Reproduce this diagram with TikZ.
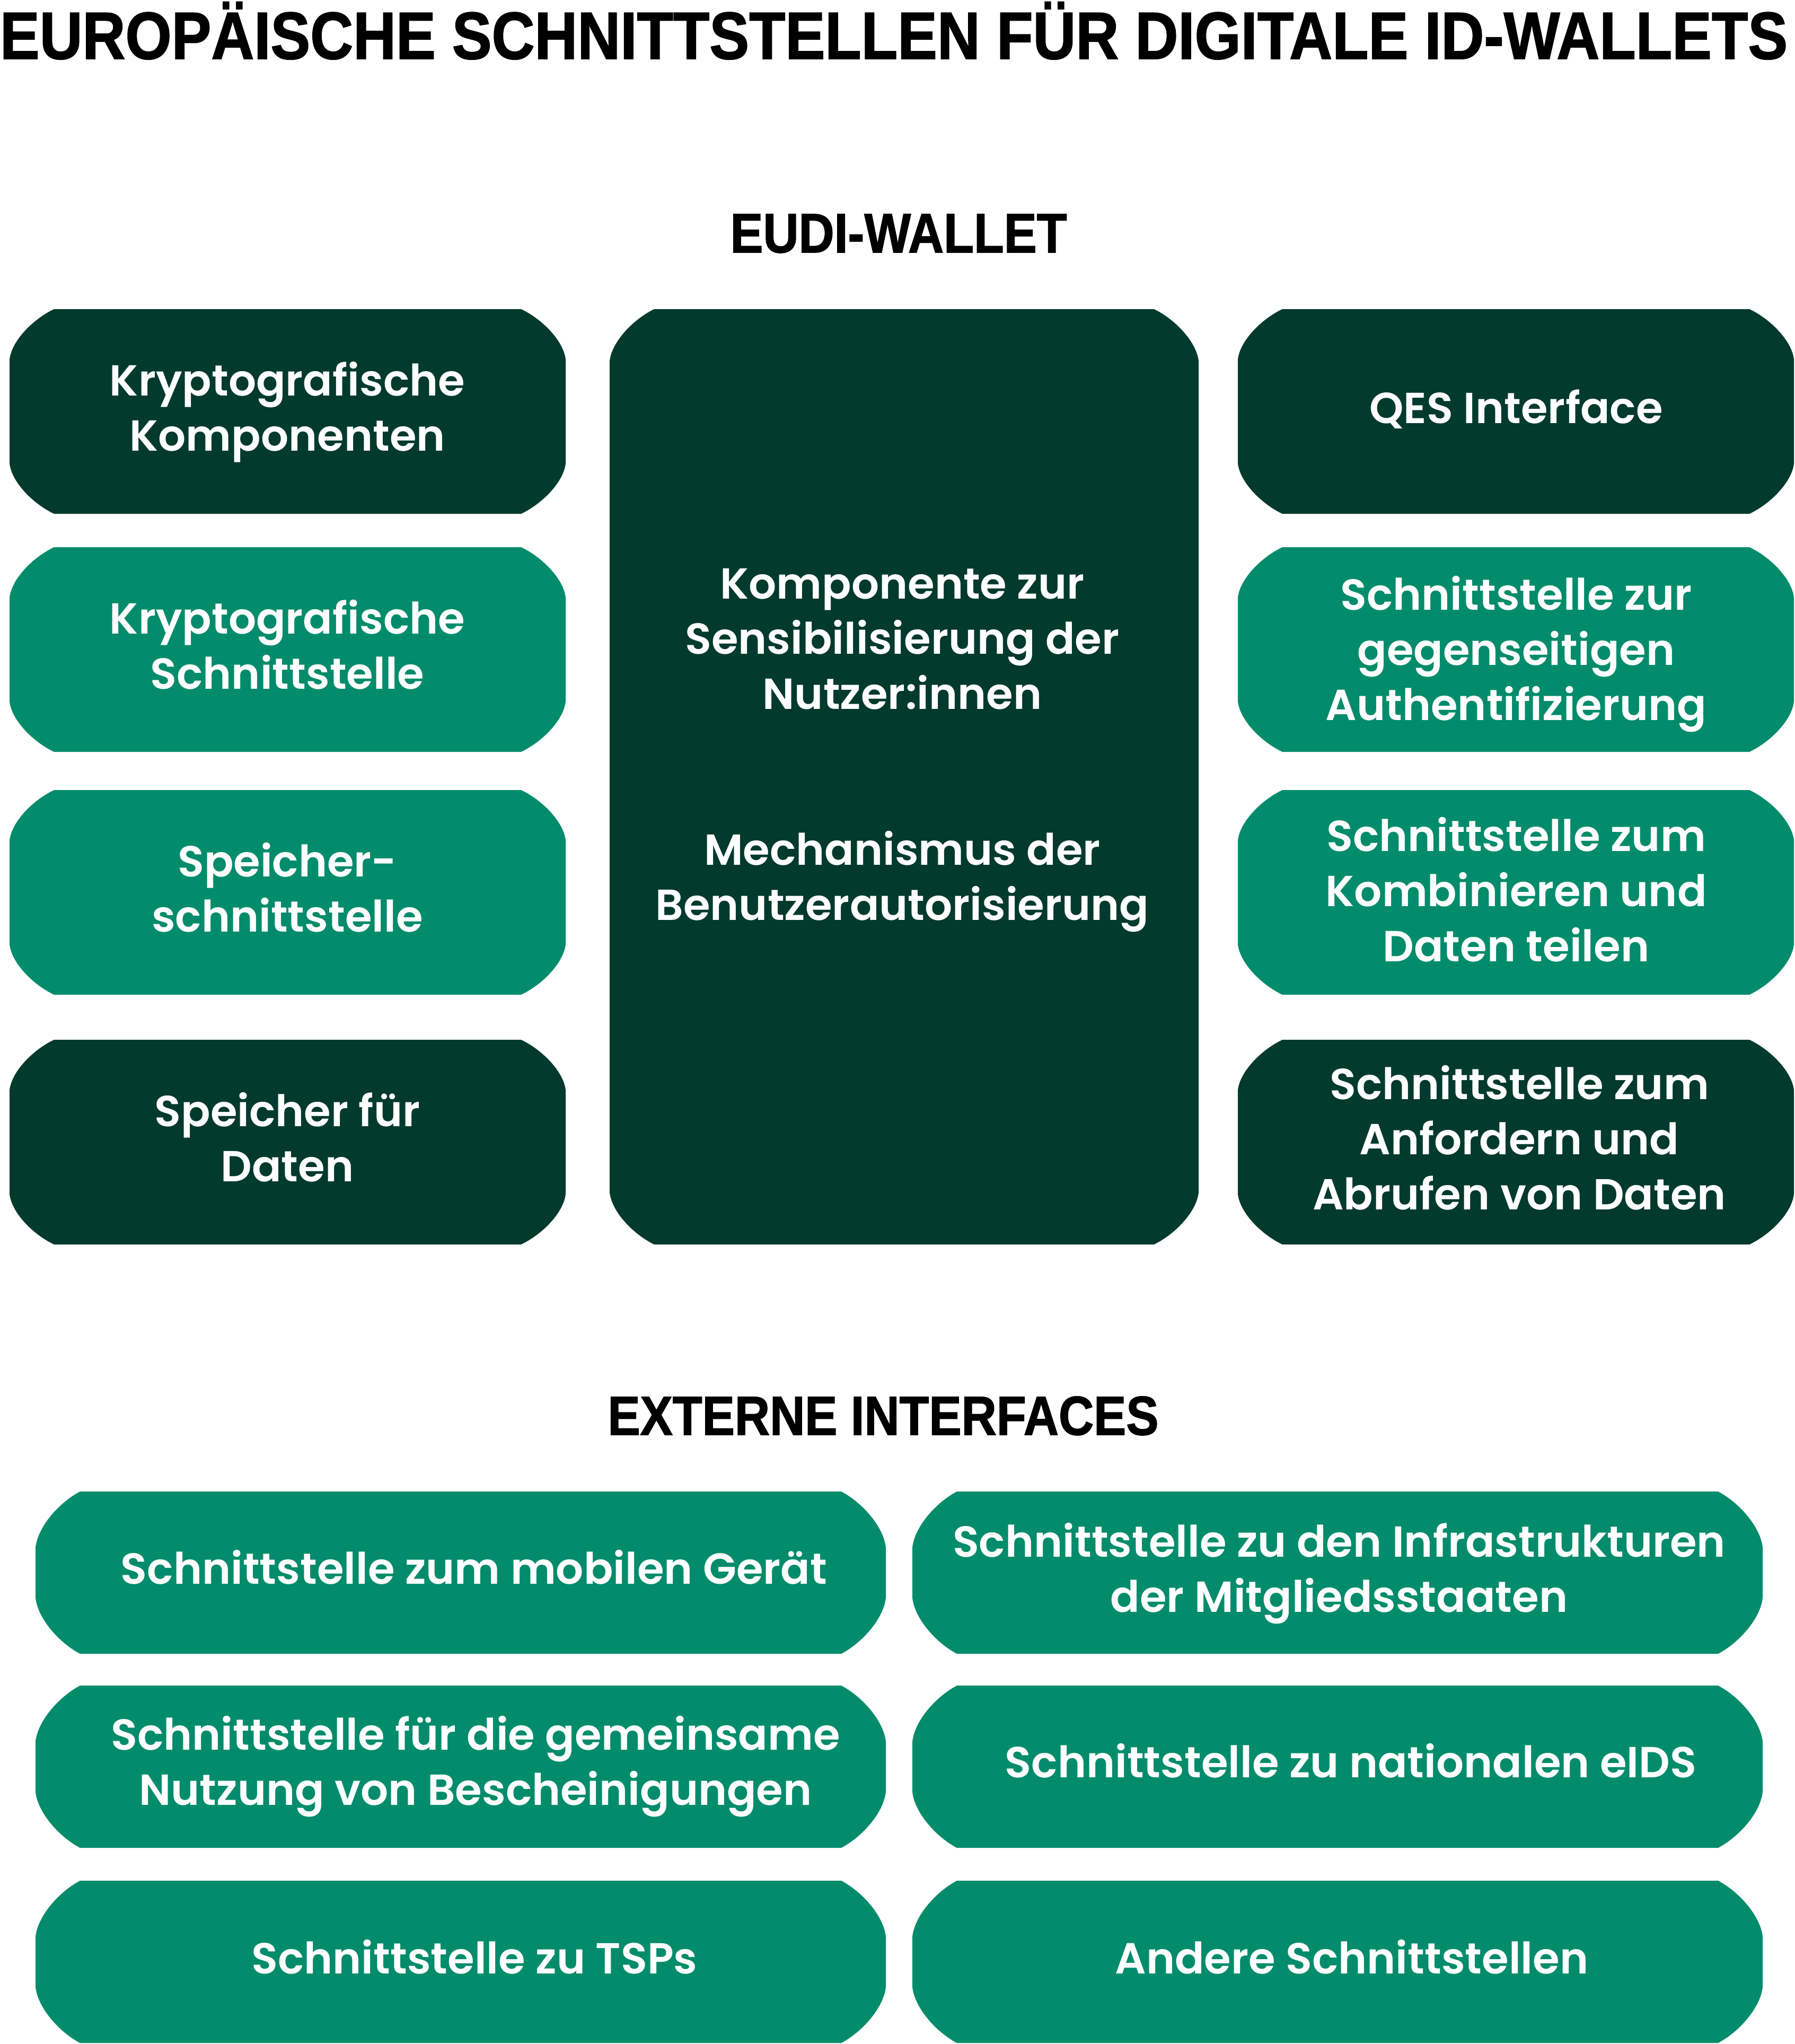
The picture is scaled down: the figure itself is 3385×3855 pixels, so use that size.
\documentclass[tikz,border=0pt]{standalone}
\usepackage{fontspec}
\usepackage{graphicx}
\setmainfont{Poppins}[BoldFont={Poppins SemiBold}]
\newfontfamily\headfont{Liberation Sans}[BoldFeatures={FakeBold=1.5}]
\definecolor{dkgreen}{HTML}{023A2D}
\definecolor{mdgreen}{HTML}{038C6B}
\newcommand{\ml}[1]{\begin{tabular}[t]{@{}c@{}}#1\end{tabular}}
% barrel-shaped box: x1 y1 x2 y2 cornerheight colour (units: px, y downwards)
\newcommand{\barrel}[6]{%
\fill[#6] ({#1+84},{#2}) -- ({#3-84},{#2})
 .. controls ({#3-44},{#2+0.2*#5}) and ({#3-4},{#2+0.63*#5}) .. ({#3},{#2+#5})
 -- ({#3},{#4-#5})
 .. controls ({#3-4},{#4-0.63*#5}) and ({#3-44},{#4-0.2*#5}) .. ({#3-84},{#4})
 -- ({#1+84},{#4})
 .. controls ({#1+44},{#4-0.2*#5}) and ({#1+4},{#4-0.63*#5}) .. ({#1},{#4-#5})
 -- ({#1},{#2+#5})
 .. controls ({#1+4},{#2+0.63*#5}) and ({#1+44},{#2+0.2*#5}) .. ({#1+84},{#2}) -- cycle;}
\tikzset{
  lbl/.style={anchor=base, inner sep=0pt, text=white,
    font=\fontsize{23.3}{29.6}\selectfont\bfseries},
  hdr/.style={anchor=base, inner sep=0pt, text=black}
}
\begin{document}
\begin{tikzpicture}[x=0.1mm,y=-0.1mm]
\useasboundingbox[fill=white] (0,0) rectangle (3385,3855);

% headings
\node[hdr] (title) at (1686,111) {\resizebox{337.2mm}{\height}{\headfont\bfseries\fontsize{35.8}{40}\selectfont EUROPÄISCHE SCHNITTSTELLEN FÜR DIGITALE ID-WALLETS}};
\node[hdr] (eudi) at (1695,476) {\resizebox{63.5mm}{\height}{\headfont\bfseries\fontsize{29.8}{34}\selectfont EUDI-WALLET}};
\node[hdr] (extern) at (1666,2706) {\resizebox{103.9mm}{\height}{\headfont\bfseries\fontsize{29.5}{34}\selectfont EXTERNE INTERFACES}};

% EUDI wallet: left column
\barrel{18}{583}{1067}{969}{95}{dkgreen}
\barrel{18}{1032}{1067}{1418}{95}{mdgreen}
\barrel{18}{1490}{1067}{1876}{95}{mdgreen}
\barrel{18}{1961}{1067}{2347}{95}{dkgreen}
% middle
\barrel{1150}{583}{2261}{2347}{98}{dkgreen}
% right column
\barrel{2335}{583}{3384}{969}{95}{dkgreen}
\barrel{2335}{1032}{3384}{1418}{95}{mdgreen}
\barrel{2335}{1490}{3384}{1876}{95}{mdgreen}
\barrel{2335}{1961}{3384}{2347}{95}{dkgreen}

\node[lbl] (krk) at (542,746) {\ml{Kryptografische\\Komponenten}};
\node[lbl] (krs) at (542,1195) {\ml{Kryptografische\\Schnittstelle}};
\node[lbl] (sps) at (542,1653) {\ml{Speicher-\\schnittstelle}};
\node[lbl] (spd) at (542,2124) {\ml{Speicher für\\Daten}};

\node[lbl] (mid) at (1702,1129) {\ml{Komponente zur\\Sensibilisierung der\\Nutzer:innen\\[19mm]Mechanismus der\\Benutzerautorisierung}};

\node[lbl] (qes) at (2860,798) {QES Interface};
\node[lbl] (auth) at (2860,1150) {\ml{Schnittstelle zur\\gegenseitigen\\Authentifizierung}};
\node[lbl] (komb) at (2860,1605) {\ml{Schnittstelle zum\\Kombinieren und\\Daten teilen}};
\node[lbl] (anf) at (2866,2073) {\ml{Schnittstelle zum\\Anfordern und\\Abrufen von Daten}};

% external interfaces
\barrel{67}{2813}{1671}{3119}{106}{mdgreen}
\barrel{67}{3179}{1671}{3485}{106}{mdgreen}
\barrel{67}{3547}{1671}{3853}{106}{mdgreen}
\barrel{1721}{2813}{3325}{3119}{106}{mdgreen}
\barrel{1721}{3179}{3325}{3485}{106}{mdgreen}
\barrel{1721}{3547}{3325}{3853}{106}{mdgreen}

\node[lbl] (mob) at (894,2987) {Schnittstelle zum mobilen Gerät};
\node[lbl] (bes) at (897,3300) {\ml{Schnittstelle für die gemeinsame\\Nutzung von Bescheinigungen}};
\node[lbl] (tsp) at (895,3722) {Schnittstelle zu TSPs};
\node[lbl] (inf) at (2526,2936) {\ml{Schnittstelle zu den Infrastrukturen\\der Mitgliedsstaaten}};
\node[lbl] (eids) at (2548,3352) {Schnittstelle zu nationalen eIDS};
\node[lbl] (and) at (2550,3722) {Andere Schnittstellen};
\end{tikzpicture}
\end{document}
